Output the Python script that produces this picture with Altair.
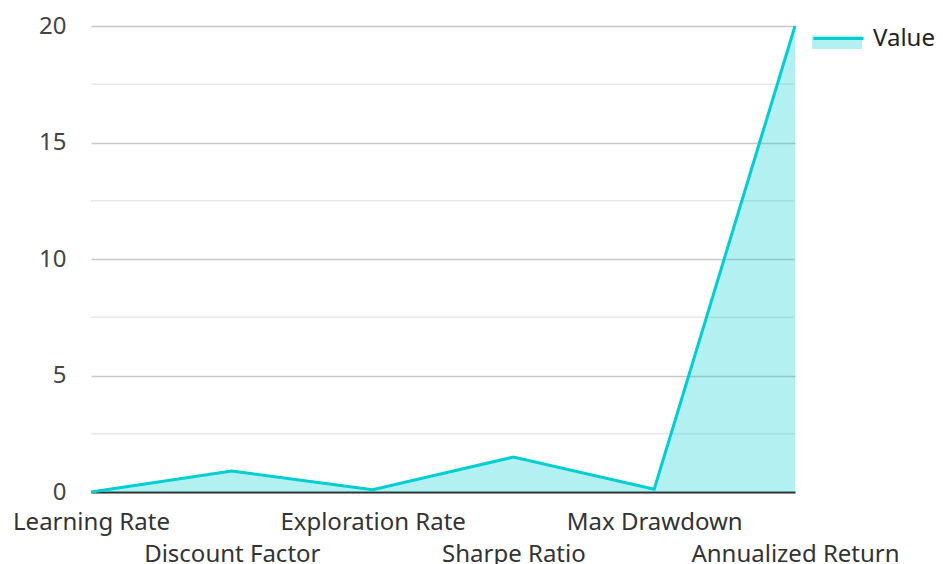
import altair as alt
import pandas as pd

categories = ["Learning Rate", "Discount Factor", "Exploration Rate",
              "Sharpe Ratio", "Max Drawdown", "Annualized Return"]
values = [0.001, 0.9, 0.1, 1.5, 0.12, 20]
major_ticks = [0, 5, 10, 15, 20]
minor_ticks = [2.5, 7.5, 12.5, 17.5]
series_name = "Value"

FONT = "Noto Sans"
LINE = "#00CED1"
FILL = "rgba(0,206,209,0.3)"

df = pd.DataFrame({"metric": categories, "value": values,
                   "series": series_name, "series_fill": series_name})
minor_df = pd.DataFrame({"v": minor_ticks})

label_expr = ("indexof(" + str(categories).replace('"', "'") +
              ", datum.value) % 2 == 1 ? ['', datum.label] : datum.label")

x_enc = alt.X("metric:N", sort=categories,
              scale=alt.Scale(type="point", padding=0),
              axis=alt.Axis(title=None, labelAngle=0, ticks=False,
                            domainColor="#333333", domainWidth=2,
                            labelFont=FONT, labelFontSize=24, labelColor="#333333",
                            labelPadding=18, labelLineHeight=32, labelLimit=500,
                            labelExpr=label_expr, labelOverlap=False,
                            labelBaseline="top", grid=False))
y_scale = alt.Scale(domain=[0, 20], nice=False)
y_enc = alt.Y("value:Q", scale=y_scale,
              axis=alt.Axis(title=None, values=major_ticks, domain=False, ticks=False,
                            labelFont=FONT, labelFontSize=24, labelColor="#444444",
                            labelPadding=25, grid=True, gridColor="#c8c8c8",
                            gridWidth=1.5))

minor = alt.Chart(minor_df).mark_rule(color="#e8e8e8", strokeWidth=1.5).encode(
    y=alt.Y("v:Q", scale=y_scale)
)

LEG_X = 721
LEG_Y = -14

area = alt.Chart(df).mark_area(interpolate="linear").encode(
    x=x_enc, y=y_enc,
    fill=alt.Fill("series_fill:N",
                  scale=alt.Scale(domain=[series_name], range=[FILL]),
                  legend=alt.Legend(title=None, orient="none", legendX=LEG_X, legendY=LEG_Y,
                                    symbolType="M-1,-0.06 L1,-0.06 L1,0.48 L-1,0.48 Z",
                                    symbolSize=2500, symbolStrokeWidth=0,
                                    labelExpr="''", labelFont=FONT, labelFontSize=24,
                                    labelOffset=8))
)

line = alt.Chart(df).mark_line(strokeWidth=3, interpolate="linear").encode(
    x=x_enc, y=y_enc,
    stroke=alt.Stroke("series:N",
                      scale=alt.Scale(domain=[series_name], range=[LINE]),
                      legend=alt.Legend(title=None, orient="none", legendX=LEG_X, legendY=LEG_Y,
                                        symbolType="stroke", symbolSize=2500,
                                        symbolStrokeWidth=3,
                                        labelFont=FONT, labelFontSize=24,
                                        labelColor="#222222", labelOffset=8))
)

chart = alt.layer(minor, area, line).resolve_legend(
    fill="independent", stroke="independent"
).properties(
    width=704, height=466,
    padding={"left": 83, "top": 18, "right": 140, "bottom": 72},
    autosize=alt.AutoSizeParams(type="none"),
).configure_view(stroke=None)

chart.save("out.html", embed_options={"renderer": "svg", "actions": False})
